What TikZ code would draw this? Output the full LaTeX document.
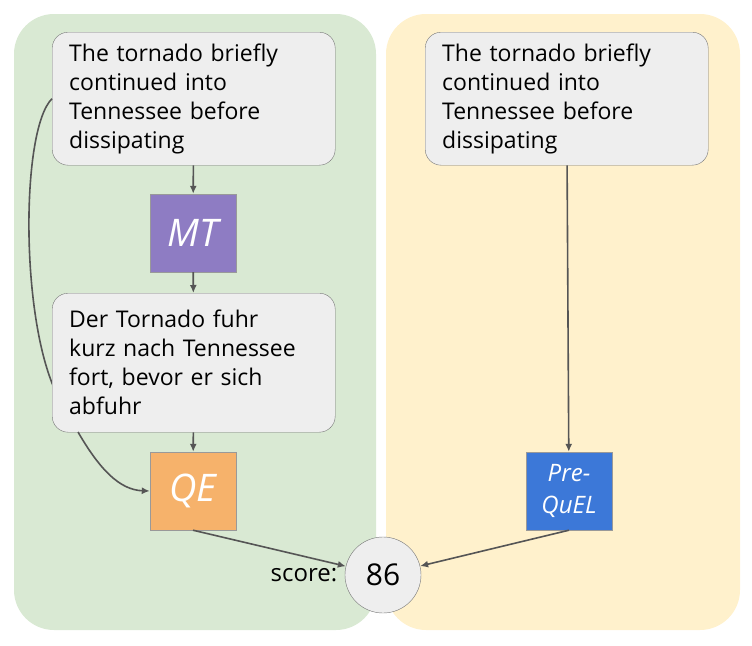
\documentclass[tikz,border=0pt]{standalone}
\usepackage{fontspec}
\setmainfont{Open Sans}
\usetikzlibrary{arrows.meta}
\definecolor{gpanel}{HTML}{D9E9D3}
\definecolor{ypanel}{HTML}{FFF1CC}
\definecolor{boxfill}{HTML}{EEEEEE}
\definecolor{mtc}{HTML}{8E7CC3}
\definecolor{qec}{HTML}{F6B26B}
\definecolor{pqc}{HTML}{3C78D8}
\definecolor{ln}{HTML}{555555}
\begin{document}
\begin{tikzpicture}[x=1pt,y=-1pt,
  txt/.style={draw=ln!80,fill=boxfill,rounded corners=16pt,minimum width=283pt,align=left,text width=249pt,inner xsep=17pt,font=\fontsize{23}{29}\selectfont,anchor=north west},
  sq/.style={draw=ln!60,minimum width=86pt,minimum height=78pt,text=white,font=\fontsize{38}{38}\itshape},
  arr/.style={draw=ln,line width=1.6pt,-{Latex[length=8pt,width=7pt]}}]
\useasboundingbox (0,0) rectangle (752,645);
\fill[gpanel,rounded corners=40pt] (14,14) rectangle (376,630);
\fill[ypanel,rounded corners=40pt] (386,14) rectangle (740,630);
\node[txt,minimum height=133pt] (b1) at (52,32) {The tornado briefly\\continued into\\Tennessee before\\dissipating};
\node[txt,minimum height=133pt] (b3) at (425,32) {The tornado briefly\\continued into\\Tennessee before\\dissipating};
\node[sq,fill=mtc] (mt) at (193,233) {MT};
\node[sq,fill=qec] (qe) at (193,491) {QE};
\node[sq,fill=pqc,align=center,font=\fontsize{24}{32}\itshape] (pq) at (569,491) {Pre-\\QuEL};
\draw[ln,line width=1.6pt] (b1.west) .. controls (20,130) and (20,330) .. (60,400);
\node[txt,minimum height=139pt] (b2) at (52,293) {Der Tornado fuhr\\kurz nach Tennessee\\fort, bevor er sich\\abfuhr};
\coordinate (c1) at (78,432);
\draw[arr] (c1) .. controls (100,470) and (120,490) .. (qe.west);
\node[circle,draw=ln!80,fill=boxfill,minimum size=76pt,font=\fontsize{30}{30}\selectfont] (s) at (383,575) {86};
\node[anchor=east,font=\fontsize{24}{24}\selectfont] (sl) at ([xshift=-4pt]s.west) {score:};
\draw[arr] (b1) -- (mt);
\draw[arr] (mt) -- (b2);
\draw[arr] (b2) -- (qe);
\draw[arr] (b3) -- (pq);
\draw[arr] (qe.south) -- (s);
\draw[arr] (pq.south) -- (s);
\end{tikzpicture}
\end{document}
